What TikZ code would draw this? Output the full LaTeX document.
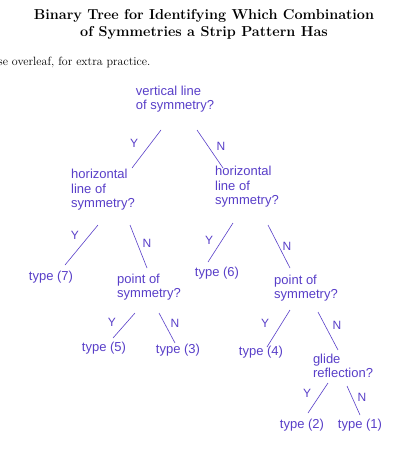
\documentclass[tikz,border=0pt]{standalone}
\usepackage{fontspec}
\newfontfamily\hand{Liberation Sans}
\definecolor{ink}{RGB}{88,62,200}
\begin{document}
\begin{tikzpicture}[x=1pt,y=-1pt,
  q/.style={text=ink,font=\hand\fontsize{13}{14.5}\selectfont,align=left,inner sep=1pt},
  edge/.style={draw=ink,line width=0.6pt},
  yn/.style={text=ink,font=\hand\fontsize{12}{13}\selectfont,inner sep=1pt}]
\useasboundingbox (0,0) rectangle (409,452);
% heading
\node[font=\bfseries\fontsize{14.4}{17}\selectfont,align=center] (title) at (204,24)
  {Binary Tree for Identifying Which Combination\\of Symmetries a Strip Pattern Has};
\node[font=\fontsize{12}{14}\selectfont,anchor=west,inner sep=0pt] (intro) at (-2,62) {se overleaf, for extra practice.};
% questions
\node[q] (root) at (175,99) {vertical line\\ of symmetry?};
\node[q] (hl) at (103,190) {horizontal\\line of\\symmetry?};
\node[q] (hr) at (247,187) {horizontal\\line of\\symmetry?};
\node[q] (t7) at (51,277) {type (7)};
\node[q] (pl) at (149,287) {point of\\symmetry?};
\node[q] (t6) at (217,273) {type (6)};
\node[q] (pr) at (306,288) {point of\\symmetry?};
\node[q] (t5) at (104,348) {type (5)};
\node[q] (t3) at (178,350) {type (3)};
\node[q] (t4) at (261,352) {type (4)};
\node[q] (gl) at (343,366) {glide\\reflection?};
\node[q] (t2) at (302,425) {type (2)};
\node[q] (t1) at (360,425) {type (1)};
% edge end points
\coordinate (a1) at (161,130); \coordinate (b1) at (132,168);
\coordinate (a2) at (197,130); \coordinate (b2) at (223,168);
\coordinate (a3) at (98,225);  \coordinate (b3) at (65,265);
\coordinate (a4) at (130,225); \coordinate (b4) at (147,268);
\coordinate (a5) at (233,223); \coordinate (b5) at (208,262);
\coordinate (a6) at (268,225); \coordinate (b6) at (290,268);
\coordinate (a7) at (135,313); \coordinate (b7) at (113,338);
\coordinate (a8) at (159,313); \coordinate (b8) at (175,343);
\coordinate (a9) at (290,310); \coordinate (b9) at (267,347);
\coordinate (a10) at (318,312); \coordinate (b10) at (338,350);
\coordinate (a11) at (328,383); \coordinate (b11) at (308,413);
\coordinate (a12) at (347,386); \coordinate (b12) at (360,415);
% connectors
\draw[edge] (a1) -- (b1); \node[yn] (y1) at (134,143) {Y};
\draw[edge] (a2) -- (b2); \node[yn] (n1) at (221,146) {N};
\draw[edge] (a3) -- (b3); \node[yn] (y2) at (75,235) {Y};
\draw[edge] (a4) -- (b4); \node[yn] (n2) at (147,243) {N};
\draw[edge] (a5) -- (b5); \node[yn] (y3) at (209,240) {Y};
\draw[edge] (a6) -- (b6); \node[yn] (n3) at (287,246) {N};
\draw[edge] (a7) -- (b7); \node[yn] (y4) at (112,322) {Y};
\draw[edge] (a8) -- (b8); \node[yn] (n4) at (175,323) {N};
\draw[edge] (a9) -- (b9); \node[yn] (y5) at (265,323) {Y};
\draw[edge] (a10) -- (b10); \node[yn] (n5) at (337,325) {N};
\draw[edge] (a11) -- (b11); \node[yn] (y6) at (307,393) {Y};
\draw[edge] (a12) -- (b12); \node[yn] (n6) at (362,397) {N};
\end{tikzpicture}
\end{document}
